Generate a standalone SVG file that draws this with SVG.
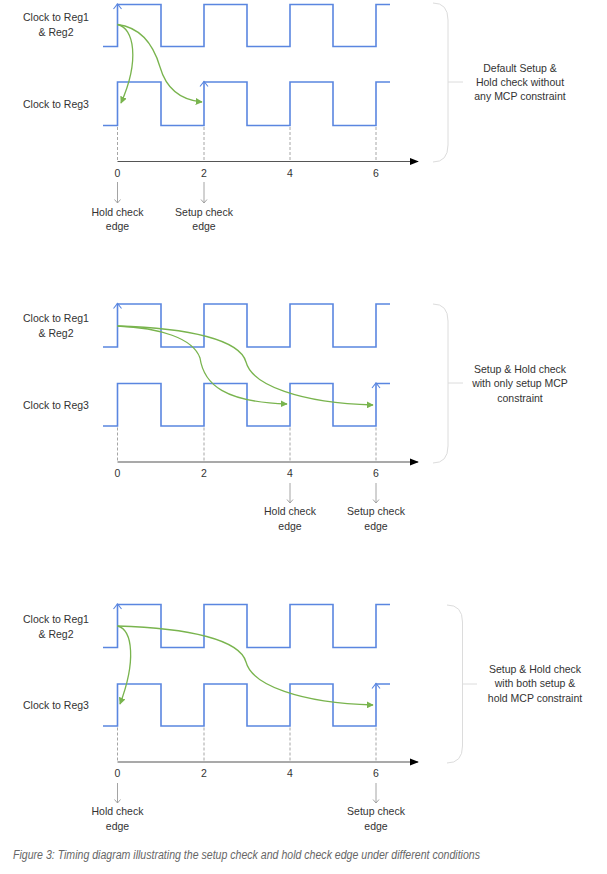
<svg xmlns="http://www.w3.org/2000/svg" width="607" height="874" viewBox="0 0 607 874">
<style>
  .clk { fill: none; stroke: #5a86e0; stroke-width: 1.6; }
  .up { fill: none; stroke: #5a86e0; stroke-width: 1.1; }
  .dash { fill: none; stroke: #a6a6a6; stroke-width: 1; stroke-dasharray: 3 2; }
  .axis { fill: none; stroke: #555; stroke-width: 1.1; }
  .garr { fill: none; stroke: #9a9a9a; stroke-width: 0.9; }
  .grn { fill: none; stroke: #79b44e; stroke-width: 1.3; marker-end: url(#gh); }
  .brace { fill: none; stroke: #dcdcdc; stroke-width: 1; }
  text { font-family: "Liberation Sans", Arial, sans-serif; font-size: 10.5px; fill: #333; }
  .c { text-anchor: middle; }
  .cap { font-style: italic; font-size: 12px; fill: #666; }
</style>
<defs>
  <marker id="gh" viewBox="0 0 10 10" refX="9" refY="5" markerWidth="7" markerHeight="7" markerUnits="userSpaceOnUse" orient="auto">
    <path d="M0,0 L10,5 L0,10 Z" fill="#79b44e"/>
  </marker>
  <marker id="ah" viewBox="0 0 10 10" refX="9" refY="5" markerWidth="9" markerHeight="9" markerUnits="userSpaceOnUse" orient="auto">
    <path d="M0,1 L10,5 L0,9 Z" fill="#000"/>
  </marker>
</defs>

<!-- ================= Panel 1 ================= -->
<g id="panel1-labels">
  <text class="c" x="56" y="21">Clock to Reg1</text>
  <text class="c" x="56" y="36">&amp; Reg2</text>
  <text class="c" x="56" y="108">Clock to Reg3</text>
</g>
<g id="panel1-reg1">
  <path class="clk" d="M103,46.5 H117.5 V4.5 H161 V46.5 H204 V4.5 H247 V46.5 H290 V4.5 H333 V46.5 H376 V4.5 H390"/>
  <path class="up" d="M113.5,9 L117.5,4 L121.5,9"/>
</g>
<g id="panel1-reg3">
  <path class="clk" d="M103,125.5 H117.5 V82 H161 V125.5 H204 V82 H247 V125.5 H290 V82 H333 V125.5 H376 V82 H390"/>
  <path class="up" d="M200,86.5 L204,81.5 L208,86.5"/>
</g>
<g id="panel1-axis">
  <path class="dash" d="M117.5,127 V161 M204,127 V161 M290,127 V161 M376,127 V161"/>
  <path class="axis" d="M117.5,161.5 H418" marker-end="url(#ah)"/>
  <text class="c" x="117.5" y="177">0</text>
  <text class="c" x="204" y="177">2</text>
  <text class="c" x="290" y="177">4</text>
  <text class="c" x="376" y="177">6</text>
</g>
<g id="panel1-hold-edge">
  <path class="garr" d="M117.5,182 V203 M114.5,199.5 L117.5,203 L120.5,199.5"/>
  <text class="c" x="117.5" y="215.5">Hold check</text>
  <text class="c" x="117.5" y="229.5">edge</text>
</g>
<g id="panel1-setup-edge">
  <path class="garr" d="M204,182 V203 M201,199.5 L204,203 L207,199.5"/>
  <text class="c" x="204" y="215.5">Setup check</text>
  <text class="c" x="204" y="229.5">edge</text>
</g>
<g id="panel1-note">
  <path class="brace" d="M433,3 Q448,3 448,20 V145 Q448,162 433,162 M448,82 H463"/>
  <text class="c" x="520" y="72">Default Setup &amp;</text>
  <text class="c" x="520" y="86.2">Hold check without</text>
  <text class="c" x="520" y="100.4">any MCP constraint</text>
</g>

<!-- ================= Panel 2 ================= -->
<g id="panel2-labels">
  <text class="c" x="56" y="322">Clock to Reg1</text>
  <text class="c" x="56" y="337">&amp; Reg2</text>
  <text class="c" x="56" y="409">Clock to Reg3</text>
</g>
<g id="panel2-reg1">
  <path class="clk" d="M103,347 H117.5 V304 H161 V347 H204 V304 H247 V347 H290 V304 H333 V347 H376 V304 H390"/>
  <path class="up" d="M113.5,308.5 L117.5,303.5 L121.5,308.5"/>
</g>
<g id="panel2-reg3">
  <path class="clk" d="M103,426 H117.5 V383.5 H161 V426 H204 V383.5 H247 V426 H290 V383.5 H333 V426 H376 V383.5 H390"/>
  <path class="up" d="M372,388 L376,383 L380,388"/>
</g>
<g id="panel2-axis">
  <path class="dash" d="M117.5,427.5 V461.5 M204,427.5 V461.5 M290,427.5 V461.5 M376,427.5 V461.5"/>
  <path class="axis" d="M117.5,462 H418" marker-end="url(#ah)"/>
  <text class="c" x="117.5" y="477">0</text>
  <text class="c" x="204" y="477">2</text>
  <text class="c" x="290" y="477">4</text>
  <text class="c" x="376" y="477">6</text>
</g>
<g id="panel2-hold-edge">
  <path class="garr" d="M290,483 V503 M287,499.5 L290,503 L293,499.5"/>
  <text class="c" x="290" y="515">Hold check</text>
  <text class="c" x="290" y="530">edge</text>
</g>
<g id="panel2-setup-edge">
  <path class="garr" d="M376,483 V503 M373,499.5 L376,503 L379,499.5"/>
  <text class="c" x="376" y="515">Setup check</text>
  <text class="c" x="376" y="530">edge</text>
</g>
<g id="panel2-note">
  <path class="brace" d="M433,304 Q448,304 448,321 V446 Q448,463 433,463 M448,383 H463"/>
  <text class="c" x="520" y="373">Setup &amp; Hold check</text>
  <text class="c" x="520" y="387.2">with only setup MCP</text>
  <text class="c" x="520" y="401.5">constraint</text>
</g>

<!-- ================= Panel 3 ================= -->
<g id="panel3-labels">
  <text class="c" x="56" y="623">Clock to Reg1</text>
  <text class="c" x="56" y="637.5">&amp; Reg2</text>
  <text class="c" x="56" y="709">Clock to Reg3</text>
</g>
<g id="panel3-reg1">
  <path class="clk" d="M103,647.5 H117.5 V604.5 H161 V647.5 H204 V604.5 H247 V647.5 H290 V604.5 H333 V647.5 H376 V604.5 H390"/>
  <path class="up" d="M113.5,609 L117.5,604 L121.5,609"/>
</g>
<g id="panel3-reg3">
  <path class="clk" d="M103,726 H117.5 V684 H161 V726 H204 V684 H247 V726 H290 V684 H333 V726 H376 V684 H390"/>
  <path class="up" d="M372,688.5 L376,683.5 L380,688.5"/>
</g>
<g id="panel3-axis">
  <path class="dash" d="M117.5,727.5 V761.5 M204,727.5 V761.5 M290,727.5 V761.5 M376,727.5 V761.5"/>
  <path class="axis" d="M117.5,762 H418" marker-end="url(#ah)"/>
  <text class="c" x="117.5" y="777">0</text>
  <text class="c" x="204" y="777">2</text>
  <text class="c" x="290" y="777">4</text>
  <text class="c" x="376" y="777">6</text>
</g>
<g id="panel3-hold-edge">
  <path class="garr" d="M117.5,783 V803 M114.5,799.5 L117.5,803 L120.5,799.5"/>
  <text class="c" x="117.5" y="815">Hold check</text>
  <text class="c" x="117.5" y="830">edge</text>
</g>
<g id="panel3-setup-edge">
  <path class="garr" d="M376,783 V803 M373,799.5 L376,803 L379,799.5"/>
  <text class="c" x="376" y="815">Setup check</text>
  <text class="c" x="376" y="830">edge</text>
</g>
<g id="panel3-note">
  <path class="brace" d="M447,605 Q462.5,605 462.5,622 V746 Q462.5,763 447,763 M462.5,684 H477"/>
  <text class="c" x="535" y="673">Setup &amp; Hold check</text>
  <text class="c" x="535" y="687.2">with both setup &amp;</text>
  <text class="c" x="535" y="701.5">hold MCP constraint</text>
</g>

<!-- ================= Connectors (timing arcs) ================= -->
<g id="connectors">
  <path class="grn" d="M117.5,24.5 C134,28 140,60 121,103"/>
  <path class="grn" d="M117.5,24.5 C145,28 155,50 160,67 C166,88 180,100 202,102"/>
  <path class="grn" d="M117.5,326 C160,328 193,338 200,358 C204,385 225,402 287,404"/>
  <path class="grn" d="M117.5,326 C190,328 240,340 246,362 C252,385 300,403 373,405"/>
  <path class="grn" d="M117.5,626 C133,630 136,662 120,704"/>
  <path class="grn" d="M117.5,626 C190,628 240,640 246,662 C252,685 300,703 373,705"/>
</g>

<text class="cap" x="13" y="859" textLength="467" lengthAdjust="spacingAndGlyphs">Figure 3: Timing diagram illustrating the setup check and hold check edge under different conditions</text>
</svg>
